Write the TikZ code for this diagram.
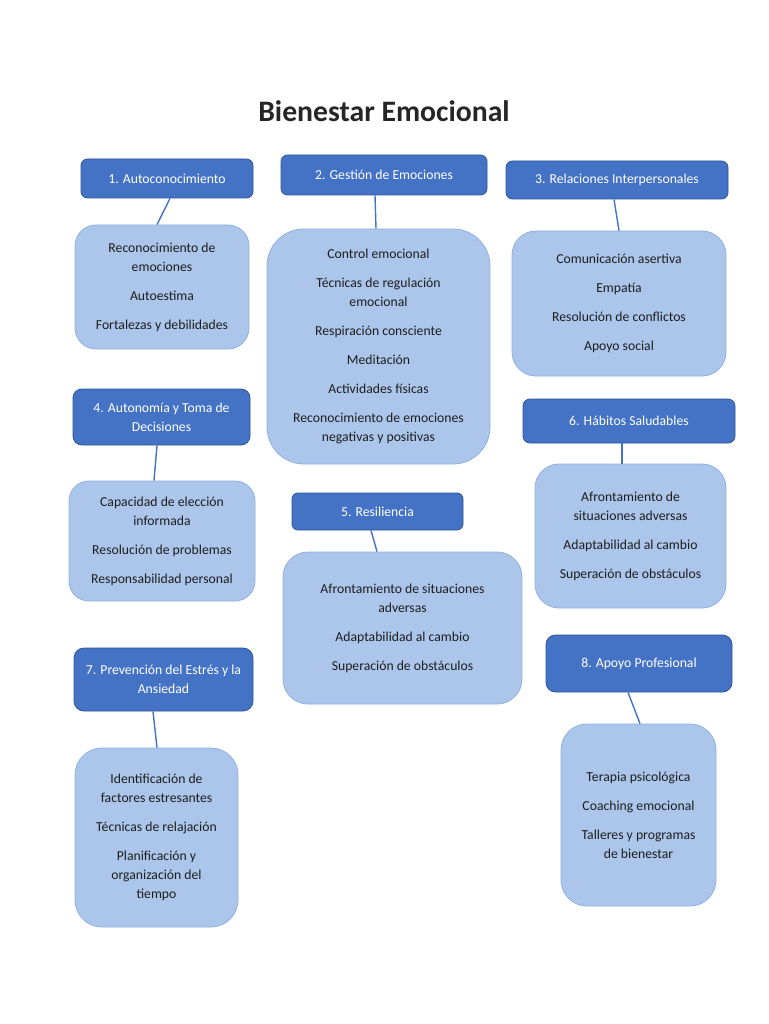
\documentclass[tikz,border=0pt]{standalone}
\usepackage{fontspec}
\setmainfont{Carlito}
\definecolor{hdrfill}{HTML}{4472C4}
\definecolor{hdrdraw}{HTML}{2F5597}
\definecolor{cntfill}{HTML}{ABC6EA}
\definecolor{cntdraw}{HTML}{8FB1E2}
\definecolor{txt}{HTML}{1E1E1E}
\definecolor{ttl}{HTML}{262626}
\begin{document}
\begin{tikzpicture}[x=1pt,y=-1pt,
  hdr/.style={draw=hdrdraw, fill=hdrfill, text=white, line width=0.8pt, align=center, inner sep=0pt,
    font=\fontsize{13.7}{19}\selectfont},
  cnt/.style={draw=cntdraw, fill=cntfill, text=txt, line width=0.8pt, align=center, inner sep=0pt,
    font=\fontsize{13.7}{19}\selectfont},
  link/.style={draw=hdrfill, line width=1.4pt}]
\useasboundingbox (0,0) rectangle (768,1024);
\fill[white] (0,0) rectangle (768,1024);
\node[text=ttl, font=\bfseries\fontsize{29.7}{34}\selectfont] (title) at (384,111) {Bienestar Emocional};

% 1
\node[hdr, minimum width=172pt, minimum height=39pt, rounded corners=6.5pt] (h1) at (167,178.5) {1. Autoconocimiento};
\node[cnt, minimum width=174pt, minimum height=124pt, rounded corners=21pt] (c1) at (162,287) {Reconocimiento de\\emociones\\[10pt]Autoestima\\[10pt]Fortalezas y debilidades};
\draw[link] ([xshift=3pt]h1.south) -- ([xshift=-5pt]c1.north);

% 2
\node[hdr, minimum width=206pt, minimum height=40pt, rounded corners=6.5pt] (h2) at (384,175) {2. Gestión de Emociones};
\node[cnt, minimum width=223pt, minimum height=235pt, rounded corners=37pt] (c2) at (378.5,346.5) {Control emocional\\[10pt]Técnicas de regulación\\emocional\\[10pt]Respiración consciente\\[10pt]Meditación\\[10pt]Actividades físicas\\[10pt]Reconocimiento de emociones\\negativas y positivas};
\draw[link] ([xshift=-9pt]h2.south) -- ([xshift=-2.5pt]c2.north);

% 3
\node[hdr, minimum width=222pt, minimum height=38pt, rounded corners=6.5pt] (h3) at (617,180) {3. Relaciones Interpersonales};
\node[cnt, minimum width=214pt, minimum height=145pt, rounded corners=24pt] (c3) at (619,303.5) {Comunicación asertiva\\[10pt]Empatía\\[10pt]Resolución de conflictos\\[10pt]Apoyo social};
\draw[link] ([xshift=-3pt]h3.south) -- (c3.north);

% 4
\node[hdr, minimum width=177pt, minimum height=56pt, rounded corners=9pt] (h4) at (161.5,417) {4. Autonomía y Toma de\\Decisiones};
\node[cnt, minimum width=186pt, minimum height=120pt, rounded corners=20pt] (c4) at (162,541) {Capacidad de elección\\informada\\[10pt]Resolución de problemas\\[10pt]Responsabilidad personal};
\draw[link] ([xshift=-4.5pt]h4.south) -- ([xshift=-8pt]c4.north);

% 5
\node[hdr, minimum width=171pt, minimum height=37pt, rounded corners=6pt] (h5) at (377.5,511.5) {5. Resiliencia};
\node[cnt, minimum width=239pt, minimum height=152pt, rounded corners=25pt] (c5) at (402.5,628) {Afrontamiento de situaciones\\adversas\\[10pt]Adaptabilidad al cambio\\[10pt]Superación de obstáculos};
\draw[link] ([xshift=-6.5pt]h5.south) -- ([xshift=-25.5pt]c5.north);

% 6
\node[hdr, minimum width=212pt, minimum height=44pt, rounded corners=7pt] (h6) at (629,421) {6. Hábitos Saludables};
\node[cnt, minimum width=191pt, minimum height=144pt, rounded corners=24pt] (c6) at (630.5,536) {Afrontamiento de\\situaciones adversas\\[10pt]Adaptabilidad al cambio\\[10pt]Superación de obstáculos};
\draw[link] ([xshift=-7pt]h6.south) -- ([xshift=-8.5pt]c6.north);

% 7
\node[hdr, minimum width=179pt, minimum height=63pt, rounded corners=10pt] (h7) at (163.5,679.5) {7. Prevención del Estrés y la\\Ansiedad};
\node[cnt, minimum width=163pt, minimum height=179pt, rounded corners=27pt] (c7) at (156.5,837.5) {Identificación de\\factores estresantes\\[10pt]Técnicas de relajación\\[10pt]Planificación y\\organización del\\tiempo};
\draw[link] ([xshift=-10.5pt]h7.south) -- ([xshift=0.5pt]c7.north);

% 8
\node[hdr, minimum width=186pt, minimum height=57pt, rounded corners=9.5pt] (h8) at (639,663.5) {8. Apoyo Profesional};
\node[cnt, minimum width=155pt, minimum height=182pt, rounded corners=26pt] (c8) at (638.5,815) {Terapia psicológica\\[10pt]Coaching emocional\\[10pt]Talleres y programas\\de bienestar};
\draw[link] ([xshift=-11pt]h8.south) -- ([xshift=1.5pt]c8.north);
\end{tikzpicture}
\end{document}
